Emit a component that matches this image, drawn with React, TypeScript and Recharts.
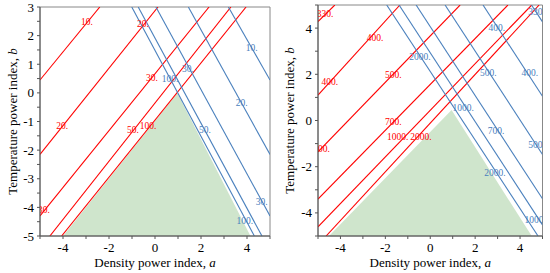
import React from "react";
import {
  ComposedChart,
  Line,
  Area,
  Scatter,
  XAxis,
  YAxis,
  ReferenceArea,
  Label,
} from "recharts";

// ---------- data ----------
const X_TICKS = [-5, -4, -3, -2, -1, 0, 1, 2, 3, 4, 5];
const X_TICK_LABELS = [-4, -2, 0, 2, 4];

const LEFT_Y_TICKS = [-5, -4.5, -4, -3.5, -3, -2.5, -2, -1.5, -1, -0.5, 0, 0.5, 1, 1.5, 2, 2.5, 3];
const LEFT_Y_TICK_LABELS = [-5, -4, -3, -2, -1, 0, 1, 2, 3];
const RIGHT_Y_TICKS = [-5, -4, -3, -2, -1, 0, 1, 2, 3, 4, 5];
const RIGHT_Y_TICK_LABELS = [-4, -2, 0, 2, 4];

// contour segments: [a, b] endpoints
const LEFT_RED = [
  { v: "10", p: [[-5, 0.45], [-2.4, 3]] },
  { v: "20", p: [[-5, -2.15], [0.13, 3]] },
  { v: "30", p: [[-5, -4.3], [2.35, 3]] },
  { v: "50", p: [[-4.57, -5], [3.3, 3]] },
  { v: "100", p: [[-4.06, -5], [3.96, 3]] },
];
const LEFT_BLUE = [
  { v: "100", p: [[-1.01, 3], [4.32, -5]] },
  { v: "50", p: [[-0.73, 3], [4.65, -5]] },
  { v: "30", p: [[0.04, 3], [5, -4.3]] },
  { v: "20", p: [[1.45, 3], [5, -2.15]] },
  { v: "10", p: [[3.19, 3], [5, 0.45]] },
];
const LEFT_GREEN = [
  { a: -4.0, b: -5 },
  { a: 0.97, b: 0 },
  { a: 4.15, b: -5 },
];
const LEFT_RED_LABELS = [
  { a: -2.96, b: 2.48, t: "10." },
  { a: -0.52, b: 2.41, t: "20." },
  { a: -4.04, b: -1.16, t: "20." },
  { a: -0.13, b: 0.52, t: "30." },
  { a: -4.83, b: -4.09, t: "30." },
  { a: -0.96, b: -1.3, t: "50." },
  { a: -0.3, b: -1.16, t: "100." },
];
const LEFT_BLUE_LABELS = [
  { a: 4.2, b: 1.57, t: "10." },
  { a: 3.77, b: -0.35, t: "20." },
  { a: 1.43, b: 0.83, t: "30." },
  { a: 0.65, b: 0.49, t: "100." },
  { a: 2.17, b: -1.3, t: "50." },
  { a: 4.64, b: -3.8, t: "30." },
  { a: 3.91, b: -4.47, t: "100." },
];

const RIGHT_RED = [
  { v: "330", p: [[-5, 4.28], [-4.25, 5]] },
  { v: "400", p: [[-5, 1.1], [-1.35, 5]] },
  { v: "500", p: [[-5, -1.36], [1.33, 5]] },
  { v: "700", p: [[-5, -3.4], [3.46, 5]] },
  { v: "1000", p: [[-5, -4.6], [4.52, 5]] },
  { v: "2000", p: [[-4.64, -5], [4.85, 5]] },
];
const RIGHT_BLUE = [
  { v: "2000", p: [[-1.94, 5], [4.8, -5]] },
  { v: "1000", p: [[-1.39, 5], [5, -4.52]] },
  { v: "700", p: [[-0.63, 5], [5, -3.39]] },
  { v: "500", p: [[0.66, 5], [5, -1.47]] },
  { v: "400", p: [[2.35, 5], [5, 1.05]] },
  { v: "330", p: [[4.51, 5], [5, 4.27]] },
];
const RIGHT_GREEN = [
  { a: -4.51, b: -5 },
  { a: 0.95, b: 0.45 },
  { a: 4.52, b: -5 },
];
const RIGHT_RED_LABELS = [
  { a: -4.69, b: 4.61, t: "330." },
  { a: -2.46, b: 3.6, t: "400." },
  { a: -4.47, b: 1.68, t: "400." },
  { a: -1.65, b: 1.97, t: "500." },
  { a: -4.84, b: -1.2, t: "500." },
  { a: -1.65, b: -0.05, t: "700." },
  { a: -1.45, b: -0.7, t: "1000." },
  { a: -0.42, b: -0.7, t: "2000." },
];
const RIGHT_BLUE_LABELS = [
  { a: -0.46, b: 2.76, t: "2000." },
  { a: 1.47, b: 0.57, t: "1000." },
  { a: 2.93, b: -0.45, t: "700." },
  { a: 2.59, b: 2.07, t: "500." },
  { a: 4.74, b: -1.06, t: "500." },
  { a: 2.96, b: 4.03, t: "400." },
  { a: 4.44, b: 2.07, t: "400." },
  { a: 4.74, b: 4.71, t: "330." },
  { a: 2.88, b: -2.26, t: "2000." },
  { a: 4.67, b: -4.28, t: "1000." },
];

// ---------- styles ----------
const RED = "#ff0000";
const BLUE = "#4a80bd";
const GREEN = "#cfe5cc";
const AXIS = "#555";
const FONT = "Liberation Serif";

const fmt = (v: number) => String(v);

type Seg = { v: string; p: number[][] };
type Lbl = { a: number; b: number; t: string };

const makeLabelShape = (color: string) => (props: any) => {
  const { cx, cy, payload } = props;
  return (
    <text
      x={cx}
      y={cy}
      dy="0.35em"
      textAnchor="middle"
      fill={color}
      fontSize={9.5}
      fontFamily={FONT}
    >
      {payload.t}
    </text>
  );
};

const XTick = (props: any) => {
  const { x, y, payload } = props;
  const v = payload.value;
  if (!X_TICK_LABELS.includes(v)) return <g />;
  return (
    <text x={x} y={y + 11} textAnchor="middle" fontSize={13} fontFamily={FONT} fill="#000">
      {fmt(v)}
    </text>
  );
};

const makeYTick = (labels: number[]) => (props: any) => {
  const { x, y, payload } = props;
  const v = payload.value;
  if (!labels.includes(v)) return <g />;
  return (
    <text x={x} y={y + 4.5} textAnchor="end" fontSize={13} fontFamily={FONT} fill="#000">
      {fmt(v)}
    </text>
  );
};

function Panel(props: {
  yDomain: [number, number];
  yTicks: number[];
  yTickLabels: number[];
  red: Seg[];
  blue: Seg[];
  green: { a: number; b: number }[];
  redLabels: Lbl[];
  blueLabels: Lbl[];
  margin: { top: number; right: number; left: number; bottom: number };
  yWidth: number;
  yTitleX: number;
}) {
  const { yDomain, yTicks, yTickLabels, red, blue, green, redLabels, blueLabels, margin, yWidth, yTitleX } = props;
  return (
    <ComposedChart width={275} height={273} data={green} margin={margin}>
      <XAxis
        type="number"
        dataKey="a"
        domain={[-5, 5]}
        ticks={X_TICKS}
        allowDataOverflow
        interval={0}
        tick={<XTick />}
        tickSize={3}
        tickMargin={2}
        stroke={AXIS}
        height={30}
      >
        <Label
          content={(p: any) => {
            const vb = p.viewBox || {};
            return (
              <text
                x={vb.x + vb.width / 2}
                y={vb.y + 31}
                textAnchor="middle"
                fontSize={13}
                fontFamily={FONT}
                fill="#000"
              >
                Density power index, <tspan fontStyle="italic">a</tspan>
              </text>
            );
          }}
        />
      </XAxis>
      <YAxis
        type="number"
        dataKey="b"
        domain={yDomain}
        ticks={yTicks}
        allowDataOverflow
        interval={0}
        tick={makeYTick(yTickLabels)}
        tickSize={3}
        tickMargin={3}
        stroke={AXIS}
        width={yWidth}
      >
        <Label
          content={(p: any) => {
            const vb = p.viewBox || {};
            const cy = vb.y + vb.height / 2;
            return (
              <text
                x={yTitleX}
                y={cy}
                transform={`rotate(-90, ${yTitleX}, ${cy})`}
                textAnchor="middle"
                dominantBaseline="central"
                fontSize={13}
                fontFamily={FONT}
                fill="#000"
              >
                Temperature power index, <tspan fontStyle="italic">b</tspan>
              </text>
            );
          }}
        />
      </YAxis>
      <Area
        type="linear"
        dataKey="b"
        baseValue={yDomain[0]}
        fill={GREEN}
        fillOpacity={1}
        stroke="none"
        isAnimationActive={false}
        dot={false}
        activeDot={false}
      />
      {red.map((s, i) => (
        <Line
          key={"r" + i}
          data={s.p.map(([a, b]) => ({ a, b }))}
          dataKey="b"
          type="linear"
          stroke={RED}
          strokeWidth={1.1}
          dot={false}
          activeDot={false}
          isAnimationActive={false}
        />
      ))}
      {blue.map((s, i) => (
        <Line
          key={"b" + i}
          data={s.p.map(([a, b]) => ({ a, b }))}
          dataKey="b"
          type="linear"
          stroke={BLUE}
          strokeWidth={1.1}
          dot={false}
          activeDot={false}
          isAnimationActive={false}
        />
      ))}
      <Scatter data={redLabels} dataKey="b" shape={makeLabelShape(RED)} isAnimationActive={false} />
      <Scatter data={blueLabels} dataKey="b" shape={makeLabelShape(BLUE)} isAnimationActive={false} />
      <ReferenceArea
        x1={-5}
        x2={5}
        y1={yDomain[0]}
        y2={yDomain[1]}
        fill="none"
        fillOpacity={0}
        stroke="#888"
        strokeWidth={1}
      />
    </ComposedChart>
  );
}

export default function App() {
  return (
    <div style={{ position: "absolute", left: 0, top: 0, width: 550, height: 273, display: "flex", background: "#fff" }}>
      <Panel
        yDomain={[-5, 3]}
        yTicks={LEFT_Y_TICKS}
        yTickLabels={LEFT_Y_TICK_LABELS}
        red={LEFT_RED}
        blue={LEFT_BLUE}
        green={LEFT_GREEN}
        redLabels={LEFT_RED_LABELS}
        blueLabels={LEFT_BLUE_LABELS}
        margin={{ top: 7, right: 5, left: 0, bottom: 7 }}
        yWidth={40}
        yTitleX={12}
      />
      <Panel
        yDomain={[-5, 5]}
        yTicks={RIGHT_Y_TICKS}
        yTickLabels={RIGHT_Y_TICK_LABELS}
        red={RIGHT_RED}
        blue={RIGHT_BLUE}
        green={RIGHT_GREEN}
        redLabels={RIGHT_RED_LABELS}
        blueLabels={RIGHT_BLUE_LABELS}
        margin={{ top: 5, right: 7.5, left: 0, bottom: 7 }}
        yWidth={43}
        yTitleX={14}
      />
    </div>
  );
}
